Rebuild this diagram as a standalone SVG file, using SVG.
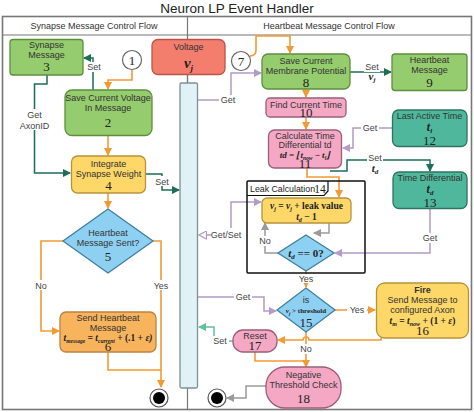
<svg xmlns="http://www.w3.org/2000/svg" width="474" height="412" viewBox="0 0 474 412">
<style>
.t{font-family:"Liberation Sans",Arial,sans-serif;font-size:9px;fill:#333;text-anchor:middle}
.n{font-family:"Liberation Serif","Times New Roman",serif;font-size:13px;fill:#222;text-anchor:middle}
.m{font-family:"Liberation Serif","Times New Roman",serif;font-style:italic;fill:#222;text-anchor:middle}
.lb{font-family:"Liberation Sans",Arial,sans-serif;font-size:9px;fill:#444;text-anchor:middle}
.green{fill:#95cc6d;stroke:#5e8f3f;stroke-width:1.3}
.yellow{fill:#fdd768;stroke:#b8923a;stroke-width:1.3}
.orange{fill:#f8b35d;stroke:#b98240;stroke-width:1.3}
.pink{fill:#f4a8c4;stroke:#9b5d78;stroke-width:1.3}
.teal{fill:#4fb89c;stroke:#2d7560;stroke-width:1.3}
.blue{fill:#8ed0f2;stroke:#3f7f9f;stroke-width:1.3}
.og{fill:none;stroke:#f39a33;stroke-width:1.6}
.dk{fill:none;stroke:#1d6e58;stroke-width:1.5}
.lv{fill:none;stroke:#b39bc9;stroke-width:1.5}
.gr{fill:none;stroke:#9a9a9a;stroke-width:1.5}
.lt{fill:none;stroke:#5fbf9f;stroke-width:1.5}
.bg{fill:#fff}
</style>
<defs>
<marker id="ao" markerWidth="8" markerHeight="8" refX="7" refY="4" orient="auto" markerUnits="userSpaceOnUse"><path d="M0,0 L8,4 L0,8 z" fill="#f39a33"/></marker>
<marker id="ad" markerWidth="8" markerHeight="8" refX="7" refY="4" orient="auto" markerUnits="userSpaceOnUse"><path d="M0,0 L8,4 L0,8 z" fill="#1d6e58"/></marker>
<marker id="al" markerWidth="8" markerHeight="8" refX="7" refY="4" orient="auto" markerUnits="userSpaceOnUse"><path d="M0,0 L8,4 L0,8 z" fill="#b39bc9"/></marker>
<marker id="alo" markerWidth="9" markerHeight="9" refX="8" refY="4.5" orient="auto" markerUnits="userSpaceOnUse"><path d="M0.5,0.5 L8,4.5 L0.5,8.5 z" fill="#fff" stroke="#b39bc9" stroke-width="1.2"/></marker>
<marker id="ag" markerWidth="8" markerHeight="8" refX="7" refY="4" orient="auto" markerUnits="userSpaceOnUse"><path d="M0,0 L8,4 L0,8 z" fill="#9a9a9a"/></marker>
<marker id="at" markerWidth="8" markerHeight="8" refX="7" refY="4" orient="auto" markerUnits="userSpaceOnUse"><path d="M0,0 L8,4 L0,8 z" fill="#5fbf9f"/></marker>
</defs>
<rect width="474" height="412" fill="#fff"/>
<text x="237" y="13" font-family="Liberation Sans,Arial,sans-serif" font-size="13.5" fill="#222" text-anchor="middle">Neuron LP Event Handler</text>
<g id="frame">
<rect x="2.5" y="16.5" width="469" height="393" fill="none" stroke="#777" stroke-width="1.6"/>
<line x1="2.5" y1="35" x2="471.5" y2="35" stroke="#777" stroke-width="1.2"/>
<line x1="187.5" y1="16.5" x2="187.5" y2="409.5" stroke="#777" stroke-width="1.2"/>
<text class="t" x="94" y="29">Synapse Message Control Flow</text>
<text class="t" x="329" y="29">Heartbeat Message Control Flow</text>
</g>
<g id="connectors">
<path class="og" d="M132 69.5 V80 H108 V89" marker-end="url(#ao)"/>
<path class="dk" d="M93 90 V58 H84" marker-end="url(#ad)"/>
<path class="dk" d="M47 75 V84 H34.5 V173 H70" marker-end="url(#ad)"/>
<path class="og" d="M108 136 V155" marker-end="url(#ao)"/>
<path class="dk" d="M146 174 H162 V190 H179" marker-end="url(#ad)"/>
<path class="og" d="M108 193 V208" marker-end="url(#ao)"/>
<path class="og" d="M63 241 H41 V331 H59" marker-end="url(#ao)"/>
<path class="og" d="M153 241 H161 V387" marker-end="url(#ao)"/>
<path class="og" d="M108 352 V370 H161"/>
<path class="og" d="M250 56 Q256 56 256 50 V36 H290 V53" marker-end="url(#ao)"/>
<path class="lv" d="M198 100 H231 V73 H261" marker-end="url(#al)"/>
<path class="dk" d="M350 72 H391" marker-end="url(#ad)"/>
<path class="og" d="M306 89 V97" marker-end="url(#ao)"/>
<path class="og" d="M306 117 V129" marker-end="url(#ao)"/>
<path class="lv" d="M392 128 H353 V148 H343" marker-end="url(#al)"/>
<path class="dk" d="M330 171 H347 V160 H430 V171" marker-end="url(#ad)"/>
<path class="og" d="M307 168 V177 H339 V197" marker-end="url(#ao)"/>
<path class="lv" d="M231 228 V202 H261" marker-end="url(#al)"/>
<path class="lv" d="M231 235 H199" marker-end="url(#alo)"/>
<path class="gr" d="M329 222 V233 H314" marker-end="url(#ag)"/>
<path class="gr" d="M278 253 H265 V223" marker-end="url(#ag)"/>
<path class="lv" d="M430 208 V253 H335" marker-end="url(#al)"/>
<path class="og" d="M306 271 V287" marker-end="url(#ao)"/>
<path class="lv" d="M198 297 H264 V311 H276" marker-end="url(#al)"/>
<path class="og" d="M335 310 H375" marker-end="url(#ao)"/>
<path class="og" d="M381 338 V340 H309 A3 3 0 0 0 303 340 H278" marker-end="url(#ao)"/>
<path class="og" d="M306 331 V367" marker-end="url(#ao)"/>
<path class="og" d="M255 352 V361 H306"/>
<path class="lt" d="M233 341 H214 V327 H199" marker-end="url(#at)"/>
<path class="gr" d="M266 386 H246 V398 H227" marker-end="url(#ag)"/>
<rect class="bg" x="86" y="62" width="16" height="10"/><text class="lb" x="94" y="70">Set</text>
<rect class="bg" x="18" y="109" width="33" height="21"/><text class="lb" x="34.5" y="118">Get</text><text class="lb" x="34.5" y="129">AxonID</text>
<rect class="bg" x="154" y="176" width="16" height="10"/><text class="lb" x="162" y="185">Set</text>
<rect class="bg" x="32" y="280" width="18" height="10"/><text class="lb" x="41" y="289">No</text>
<rect class="bg" x="151" y="280" width="20" height="10"/><text class="lb" x="161" y="289">Yes</text>
<rect class="bg" x="219" y="95" width="18" height="10"/><text class="lb" x="228" y="103">Get</text>
<rect class="bg" x="364" y="63" width="16" height="9"/><text class="lb" x="372" y="70">Set</text>
<text class="m" x="372" y="80" font-size="11" font-weight="bold">v<tspan font-size="7" dy="2">j</tspan></text>
<rect class="bg" x="361" y="123" width="18" height="10"/><text class="lb" x="370" y="131">Get</text>
<rect class="bg" x="367" y="154" width="16" height="10"/><text class="lb" x="375" y="161">Set</text>
<text class="m" x="375" y="172" font-size="11" font-weight="bold">t<tspan font-size="7" dy="2">d</tspan></text>
<rect class="bg" x="211" y="230" width="32" height="10"/><text class="lb" x="226" y="238">Get/Set</text>
<rect class="bg" x="257" y="236" width="16" height="10"/><text class="lb" x="265" y="244">No</text>
<rect class="bg" x="421" y="233" width="18" height="10"/><text class="lb" x="430" y="241">Get</text>
<rect class="bg" x="297" y="274" width="19" height="9"/><text class="lb" x="306" y="282">Yes</text>
<rect class="bg" x="234" y="292" width="18" height="10"/><text class="lb" x="243" y="300">Get</text>
<rect class="bg" x="347" y="305" width="20" height="10"/><text class="lb" x="357" y="313">Yes</text>
<rect class="bg" x="298" y="344" width="16" height="10"/><text class="lb" x="306" y="352">No</text>
<rect class="bg" x="212" y="336" width="17" height="10"/><text class="lb" x="220" y="344">Set</text>
</g>
<g id="voltage">
<rect x="152" y="39.5" width="73" height="35" rx="6" fill="#f47e6e" stroke="#b85548" stroke-width="1.3"/>
<text class="t" x="188.5" y="50">Voltage</text>
<text class="m" x="188.5" y="68" font-size="15" font-weight="bold">v<tspan font-size="9" dy="3">j</tspan></text>
</g>
<g id="bar">
<line x1="187.5" y1="74.5" x2="187.5" y2="83" stroke="#777" stroke-width="1.2"/>
<rect x="180" y="83" width="17.5" height="305" rx="1.5" fill="#e0f2f6" stroke="#7d9196" stroke-width="1.3"/>
</g>
<g id="n3">
<rect class="green" x="10" y="39.5" width="73" height="35.5" rx="3"/>
<text class="t" x="46.5" y="48">Synapse</text>
<text class="t" x="46.5" y="58">Message</text>
<text class="n" x="46.5" y="71">3</text>
</g>
<g id="c1">
<circle cx="132" cy="60" r="9.5" fill="#fff" stroke="#666" stroke-width="1.2"/>
<text class="n" x="132" y="64.5">1</text>
</g>
<g id="n2">
<rect class="green" x="65" y="90" width="87" height="45.5" rx="7"/>
<text class="t" x="108" y="101">Save Current Voltage</text>
<text class="t" x="108" y="111">In Message</text>
<text class="n" x="108" y="127">2</text>
</g>
<g id="n4">
<rect class="yellow" x="71.5" y="156" width="74" height="37" rx="6"/>
<text class="t" x="108.5" y="167">Integrate</text>
<text class="t" x="108.5" y="177">Synapse Weight</text>
<text class="n" x="108.5" y="190">4</text>
</g>
<g id="n5">
<path class="blue" d="M108 209 L153 241 L108 273 L63 241 Z"/>
<text class="t" x="108" y="236">Heartbeat</text>
<text class="t" x="108" y="246">Message Sent?</text>
<text class="n" x="108" y="261">5</text>
</g>
<g id="n6">
<rect class="orange" x="60" y="312" width="96" height="40" rx="6"/>
<text class="t" x="108" y="321">Send Heartbeat</text>
<text class="t" x="108" y="331">Message</text>
<text class="m" x="108" y="341" font-size="9.5" font-weight="bold">t<tspan font-size="5.5" dy="2">message</tspan><tspan dy="-2"> = t</tspan><tspan font-size="5.5" dy="2">current</tspan><tspan dy="-2" font-style="normal"> + (.1 + </tspan><tspan>ε)</tspan></text>
<text class="n" x="108" y="351">6</text>
</g>
<g id="end1">
<circle cx="159" cy="398" r="9" fill="#fff" stroke="#555" stroke-width="1.2"/>
<circle cx="159" cy="398" r="6" fill="#000"/>
</g>
<g id="c7">
<circle cx="241" cy="61" r="9.5" fill="#fff" stroke="#666" stroke-width="1.2"/>
<text class="n" x="241" y="65.5">7</text>
</g>
<g id="n8">
<rect class="green" x="262" y="54" width="88" height="35" rx="6"/>
<text class="t" x="306" y="64">Save Current</text>
<text class="t" x="306" y="74">Membrane Potential</text>
<text class="n" x="306" y="87">8</text>
</g>
<g id="n9">
<rect class="green" x="392" y="54" width="75" height="36.5" rx="3"/>
<text class="t" x="429.5" y="63">Heartbeat</text>
<text class="t" x="429.5" y="73">Message</text>
<text class="n" x="429.5" y="87">9</text>
</g>
<g id="n10">
<rect class="pink" x="266" y="98" width="80" height="19" rx="4"/>
<text class="t" x="306" y="108">Find Current Time</text>
<text class="n" x="306" y="117">10</text>
</g>
<g id="n11">
<rect class="pink" x="268.5" y="130" width="73" height="38" rx="6"/>
<text class="t" x="305" y="139">Calculate Time</text>
<text class="t" x="305" y="148">Differential td</text>
<text class="m" x="305" y="158" font-size="9" font-weight="bold">td = ⌊t<tspan font-size="5.5" dy="2">now</tspan><tspan dy="-2" font-style="normal"> − </tspan><tspan>t</tspan><tspan font-size="5.5" dy="2">l</tspan><tspan dy="-2">⌋</tspan></text>
<text class="n" x="305" y="168" font-size="12">11</text>
</g>
<g id="n12">
<rect class="teal" x="392.5" y="110" width="74.5" height="36.5" rx="6"/>
<text class="t" x="429.5" y="119">Last Active Time</text>
<text class="m" x="429.5" y="131" font-size="12" font-weight="bold">t<tspan font-size="7" dy="2">l</tspan></text>
<text class="n" x="429.5" y="145">12</text>
</g>
<g id="n13">
<rect class="teal" x="393" y="172" width="74" height="36.5" rx="6"/>
<text class="t" x="430" y="181">Time Differential</text>
<text class="m" x="430" y="193" font-size="12" font-weight="bold">t<tspan font-size="7" dy="2">d</tspan></text>
<text class="n" x="430" y="207">13</text>
</g>
<g id="n14">
<rect x="247" y="181" width="118" height="92" fill="none" stroke="#111" stroke-width="1.5" rx="1"/>
<path d="M247 195.5 H324 L328 191 V181" fill="none" stroke="#111" stroke-width="1.2"/>
<text x="250" y="192" font-family="Liberation Sans,Arial,sans-serif" font-size="8.8" fill="#222">Leak Calculation</text>
<text x="320" y="193" font-family="Liberation Serif,serif" font-size="11.5" fill="#222" text-anchor="middle">14</text>
</g>
<g id="leak">
<rect class="yellow" x="262" y="198" width="89" height="25" rx="5"/>
<text class="m" x="306.5" y="209" font-size="9.5" font-weight="bold">v<tspan font-size="6" dy="2">j</tspan><tspan dy="-2" font-style="normal"> = </tspan><tspan>v</tspan><tspan font-size="6" dy="2">j</tspan><tspan dy="-2" font-style="normal"> + leak value</tspan></text>
<text class="m" x="306.5" y="220" font-size="9.5" font-weight="bold">t<tspan font-size="6" dy="2">d</tspan><tspan dy="-2" font-style="normal"> − 1</tspan></text>
</g>
<g id="dtd">
<path class="blue" d="M306 235 L334 253 L306 271 L278 253 Z"/>
<text class="m" x="306" y="257" font-size="11" font-weight="bold">t<tspan font-size="7" dy="2">d</tspan><tspan dy="-2" font-style="normal"> == 0?</tspan></text>
</g>
<g id="n15">
<path class="blue" d="M306 288 L335 310 L306 332 L277 310 Z"/>
<text class="t" x="306" y="303" font-size="8">is</text>
<text class="m" x="306" y="313" font-size="7" font-weight="bold">v<tspan font-size="5" dy="1.5">j</tspan><tspan dy="-1.5" font-style="normal"> &gt; threshold</tspan></text>
<text class="n" x="306" y="327">15</text>
</g>
<g id="n16">
<rect class="yellow" x="376.5" y="283" width="92" height="55" rx="8"/>
<text class="t" x="422.5" y="293" font-weight="bold">Fire</text>
<text class="t" x="422.5" y="303">Send Message to</text>
<text class="t" x="422.5" y="313">configured Axon</text>
<text class="m" x="422.5" y="324" font-size="9.5" font-weight="bold">t<tspan font-size="6" dy="2">m</tspan><tspan dy="-2" font-style="normal"> = </tspan><tspan>t</tspan><tspan font-size="6" dy="2">now</tspan><tspan dy="-2" font-style="normal"> + (1 + </tspan><tspan>ε</tspan><tspan font-style="normal">)</tspan></text>
<text class="n" x="422.5" y="335">16</text>
</g>
<g id="n17">
<rect class="pink" x="233" y="330" width="44" height="22" rx="10"/>
<text class="t" x="255" y="339">Reset</text>
<text class="n" x="255" y="350">17</text>
</g>
<g id="n18">
<rect class="pink" x="266" y="367" width="75" height="41" rx="19"/>
<text class="t" x="303.5" y="378">Negative</text>
<text class="t" x="303.5" y="388">Threshold Check</text>
<text class="n" x="303.5" y="403">18</text>
</g>
<g id="end2">
<circle cx="217" cy="398" r="9" fill="#fff" stroke="#555" stroke-width="1.2"/>
<circle cx="217" cy="398" r="6" fill="#000"/>
</g>
</svg>
